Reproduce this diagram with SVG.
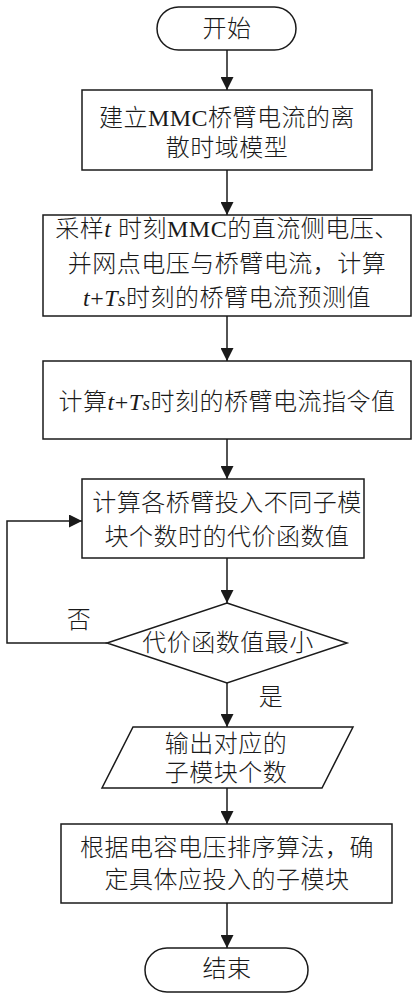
<svg xmlns="http://www.w3.org/2000/svg" width="418" height="1000" viewBox="0 0 418 1000">
<style>
.shape{fill:#fff;stroke:#1a1a1a;stroke-width:1.5}
.conn{fill:none;stroke:#1a1a1a;stroke-width:1.5}
text{font-family:"Liberation Serif","Noto Sans CJK SC",serif;font-size:24px;fill:#1a1a1a;text-anchor:middle;font-weight:300;letter-spacing:0.5px}
.it{font-style:italic}
.sub{font-style:italic;font-size:19px}
</style>
<defs>
<marker id="arr" markerUnits="userSpaceOnUse" markerWidth="13" markerHeight="13" refX="13" refY="6.5" orient="auto">
<path d="M0,0 L13,6.5 L0,13 z" fill="#1a1a1a"/>
</marker>
</defs>
<rect width="418" height="1000" fill="#fff"/>
<g id="connectors">
<line class="conn" x1="227" y1="50" x2="227" y2="90" marker-end="url(#arr)"/>
<line class="conn" x1="227" y1="170" x2="227" y2="215" marker-end="url(#arr)"/>
<line class="conn" x1="227" y1="316" x2="227" y2="361" marker-end="url(#arr)"/>
<line class="conn" x1="227" y1="439" x2="227" y2="479" marker-end="url(#arr)"/>
<line class="conn" x1="227" y1="558" x2="227" y2="603" marker-end="url(#arr)"/>
<line class="conn" x1="227" y1="683" x2="227" y2="727" marker-end="url(#arr)"/>
<line class="conn" x1="227" y1="788" x2="227" y2="824" marker-end="url(#arr)"/>
<line class="conn" x1="227" y1="903" x2="227" y2="948" marker-end="url(#arr)"/>
<polyline class="conn" points="107,643 7,643 7,521 82,521" marker-end="url(#arr)"/>
<text x="79" y="628">否</text>
<text x="271" y="705">是</text>
</g>
<g id="start">
<rect class="shape" x="157" y="7" width="139" height="43" rx="21.5"/>
<text x="227" y="37">开始</text>
</g>
<g id="model">
<rect class="shape" x="82" y="90" width="290" height="80"/>
<text x="227" y="126">建立MMC桥臂电流的离</text>
<text x="227" y="156">散时域模型</text>
</g>
<g id="sample">
<rect class="shape" x="43" y="215" width="368" height="101"/>
<text x="227" y="237">采样<tspan class="it">t</tspan> 时刻MMC的直流侧电压、</text>
<text x="227" y="272">并网点电压与桥臂电流，计算</text>
<text x="227" y="306"><tspan class="it">t</tspan>+<tspan class="it">T</tspan><tspan class="sub">s</tspan>时刻的桥臂电流预测值</text>
</g>
<g id="reference">
<rect class="shape" x="43" y="361" width="368" height="78"/>
<text x="227" y="410">计算<tspan class="it">t</tspan>+<tspan class="it">T</tspan><tspan class="sub">s</tspan>时刻的桥臂电流指令值</text>
</g>
<g id="cost">
<rect class="shape" x="82" y="479" width="282" height="79"/>
<text x="227" y="511">计算各桥臂投入不同子模</text>
<text x="227" y="545">块个数时的代价函数值</text>
</g>
<g id="decision">
<polygon class="shape" points="227,603 347,643 227,683 107,643"/>
<text x="228" y="651">代价函数值最小</text>
</g>
<g id="output">
<polygon class="shape" points="133,727 353,727 322,788 102,788"/>
<text x="226" y="752">输出对应的</text>
<text x="226" y="781">子模块个数</text>
</g>
<g id="sort">
<rect class="shape" x="61" y="824" width="331" height="79"/>
<text x="227" y="856">根据电容电压排序算法，确</text>
<text x="227" y="888">定具体应投入的子模块</text>
</g>
<g id="end">
<rect class="shape" x="145" y="948" width="163" height="44" rx="22"/>
<text x="227" y="977">结束</text>
</g>
</svg>
